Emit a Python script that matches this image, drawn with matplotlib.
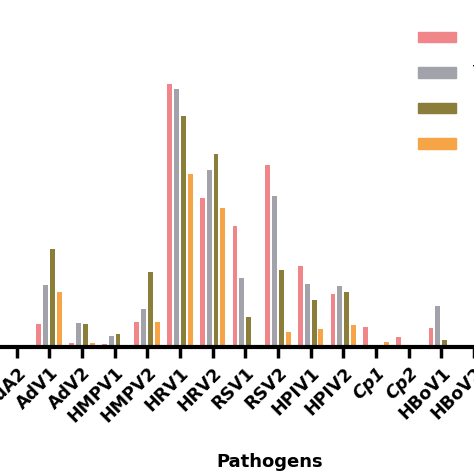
import numpy as np
import matplotlib.pyplot as plt
from matplotlib.patches import Patch

# categories (the reference is a crop of a wider chart)
pathogens = ["FluA2", "AdV1", "AdV2", "HMPV1", "HMPV2", "HRV1", "HRV2", "RSV1",
             "RSV2", "HPIV1", "HPIV2", "Cp1", "Cp2", "HBoV1", "HBoV2"]
group_a = [0, 23, 4, 3, 25, 263, 149, 121, 182, 81, 53, 20, 10, 19, 0]
group_b = [0, 62, 24, 11, 38, 258, 177, 69, 151, 63, 61, 0, 0, 41, 0]
group_c = [0, 98, 23, 13, 75, 231, 193, 30, 77, 47, 55, 0, 0, 7, 0]
group_d = [0, 55, 4, 0, 25, 173, 139, 2, 15, 18, 22, 5, 0, 0, 0]
series_names = ["Intensive care", "Total", "Pre-school", "School"]
colors = ["#F0868A", "#A2A2AA", "#8B7D3A", "#F7A446"]

W, H = 474, 474
fig = plt.figure(figsize=(W / 100, H / 100), dpi=100)
ax = fig.add_axes([0, 127 / H, 1, 287 / H])

x = np.arange(len(pathogens))
offsets = [-0.315, -0.105, 0.105, 0.315]
for vals, off, c in zip([group_a, group_b, group_c, group_d], offsets, colors):
    ax.bar(x + off, vals, width=0.15, color=c)

ax.set_xlim(-17 / 33.6, (W - 17) / 33.6)
ax.set_ylim(0, 287)
ax.set_xticks(x)
ax.set_xticklabels(pathogens, rotation=45, ha="right", rotation_mode="anchor",
                   fontsize=12.5, fontweight="bold")
for lbl in ax.get_xticklabels():
    if lbl.get_text().startswith("Cp"):
        lbl.set_fontstyle("italic")
ax.tick_params(axis="x", length=8, width=2.5, direction="out", pad=4)
ax.tick_params(axis="y", left=False, labelleft=False)
for s in ["left", "right", "top"]:
    ax.spines[s].set_visible(False)
ax.spines["bottom"].set_linewidth(3)
ax.set_xlabel("Pathogens", fontsize=13, fontweight="bold")
ax.xaxis.set_label_coords(270 / W, -106 / 287)

handles = [Patch(color=c) for c in colors]
fig.legend(handles, series_names, loc="upper left",
           bbox_to_anchor=(403 / W, 1 - 14 / H), frameon=False, fontsize=12,
           handlelength=2.3, handleheight=0.6, handletextpad=1.0,
           labelspacing=1.05)

fig.savefig("out.png", dpi=100)
